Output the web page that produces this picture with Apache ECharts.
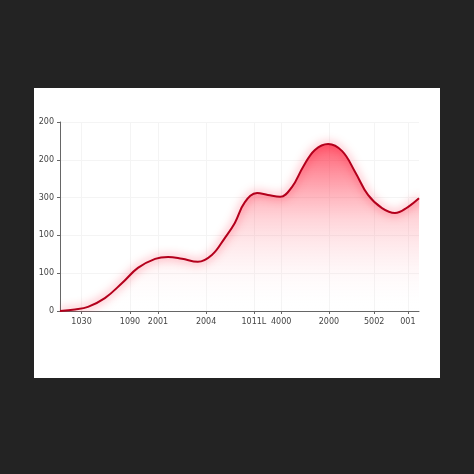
<!DOCTYPE html>
<html>
<head>
    <meta charset="UTF-8">
    <title>area</title>
    <script src="https://cdn.jsdelivr.net/npm/echarts@6/dist/echarts.min.js"></script>
</head>
<body style="margin: 0; background: #232323; width: 474px; height: 474px; overflow: hidden">
    <div id="card" style="position: absolute; left: 34px; top: 88px; width: 406px; height: 290px; background: #fff">
        <div id="container" style="width: 100%; height: 100%"></div>
    </div>
    <script type="text/javascript">
        // curve (x in 0..100, y in axis units 0..5)
        var xs = [0, 4.2, 7.8, 12.5, 17.3, 21.7, 26.5, 30.1, 34.0, 38.4, 42.3, 45.9, 48.7, 51.5, 54.9, 57.9, 61.3, 64.6, 67.7, 71.0, 74.7, 78.6, 82.2, 85.8, 89.7, 93.3, 96.9, 100];
        var ys = [0, 0.04, 0.11, 0.34, 0.74, 1.14, 1.38, 1.43, 1.38, 1.30, 1.48, 1.93, 2.33, 2.88, 3.12, 3.07, 3.02, 3.28, 3.81, 4.26, 4.42, 4.23, 3.68, 3.07, 2.72, 2.59, 2.75, 2.98];
        var xTickValues = [6.0, 19.5, 27.3, 40.7, 54.0, 61.6, 74.9, 87.5, 96.9];
        var xTickLabels = ['1030', '1090', '2001', '2004', '1011L', '4000', '2000', '5002', '001'];
        var yTickLabels = ['0', '100', '100', '300', '200', '200'];

        var data = xs.map((x, i) => [x, ys[i]]);

        var myChart = echarts.init(document.getElementById('container'));
        var option = {
            animation: false,
            grid: { left: 26, right: 21, top: 34, bottom: 67 },
            xAxis: {
                type: 'value',
                min: 0,
                max: 100,
                axisLine: { lineStyle: { color: '#666', width: 1 } },
                axisTick: { show: true, customValues: xTickValues, length: 3, lineStyle: { color: '#666' } },
                axisLabel: {
                    customValues: xTickValues,
                    formatter: function (v) {
                        var i = xTickValues.indexOf(v);
                        return i >= 0 ? xTickLabels[i] : '';
                    },
                    color: '#444', fontSize: 8, margin: 7, fontFamily: 'DejaVu Sans'
                },
                splitLine: { show: true, lineStyle: { color: '#f4f4f4' } }
            },
            yAxis: {
                type: 'value',
                min: 0,
                max: 5,
                interval: 1,
                axisLine: { show: true, lineStyle: { color: '#666', width: 1 } },
                axisTick: { show: true, length: 3, lineStyle: { color: '#666' } },
                axisLabel: {
                    formatter: function (v) { return yTickLabels[Math.round(v)]; },
                    color: '#444', fontSize: 8, margin: 6, fontFamily: 'DejaVu Sans'
                },
                splitLine: { show: true, lineStyle: { color: '#f4f4f4' } }
            },
            series: [{
                type: 'line',
                data: data,
                smooth: 0.4,
                symbol: 'none',
                lineStyle: {
                    color: '#b3001c',
                    width: 2,
                    shadowColor: 'rgba(255, 0, 40, 0.75)',
                    shadowBlur: 10
                },
                areaStyle: {
                    color: new echarts.graphic.LinearGradient(0, 0, 0, 1, [
                        { offset: 0, color: 'rgba(255, 10, 40, 0.95)' },
                        { offset: 0.45, color: 'rgba(255, 80, 100, 0.35)' },
                        { offset: 1, color: 'rgba(255, 255, 255, 0)' }
                    ])
                }
            }]
        };
        myChart.setOption(option);
    </script>
</body>
</html>
